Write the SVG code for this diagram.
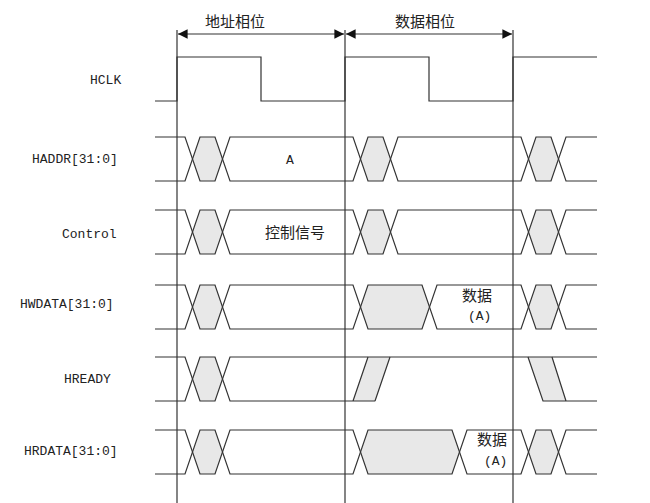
<svg xmlns="http://www.w3.org/2000/svg" width="650" height="503" viewBox="0 0 650 503">
<style>
.l{stroke:#333;stroke-width:1.2;fill:none}
.g{fill:#e8e8e8;stroke:none}
.t{font-family:"Liberation Mono",monospace;font-size:13px;fill:#222}
.c{font-family:"Noto Sans CJK SC",sans-serif;font-size:15px;fill:#222}
</style>
<defs>
<marker id="a" viewBox="0 0 10 10" refX="10" refY="5" markerWidth="10" markerHeight="8" orient="auto-start-reverse"><path d="M0,0L10,5L0,10z" fill="#111"/></marker>
</defs>
<rect width="650" height="503" fill="#fff"/>
<g id="phases">
<line class="l" x1="177" y1="30" x2="177" y2="503"/>
<line class="l" x1="345" y1="30" x2="345" y2="503"/>
<line class="l" x1="513" y1="30" x2="513" y2="503"/>
<line class="l" x1="178" y1="34" x2="344" y2="34" marker-start="url(#a)" marker-end="url(#a)"/>
<line class="l" x1="346" y1="34" x2="512" y2="34" marker-start="url(#a)" marker-end="url(#a)"/>
<text class="c" x="205" y="27">地址相位</text>
<text class="c" x="395" y="27">数据相位</text>
</g>
<g id="labels">
<text class="t" x="90" y="84">HCLK</text>
<text class="t" x="32" y="163">HADDR[31:0]</text>
<text class="t" x="62" y="238">Control</text>
<text class="t" x="20" y="308">HWDATA[31:0]</text>
<text class="t" x="64" y="383">HREADY</text>
<text class="t" x="24" y="455">HRDATA[31:0]</text>
</g>
<g id="hclk"><path class="l" d="M155,101H177V57H261V101H345V57H429V101H513V57H597"/></g>
<g id="haddr">
<path class="g" d="M192.5,159L200,137H215L222.5,159L215,181H200z M360.5,159L368,137H383L390.5,159L383,181H368z M528.5,159L536,137H551L558.5,159L551,181H536z"/>
<path class="l" d="M155,137H185L200,181H215L230,137H353L368,181H383L398,137H521L536,181H551L566,137H597"/>
<path class="l" d="M155,181H185L200,137H215L230,181H353L368,137H383L398,181H521L536,137H551L566,181H597"/>
<text class="t" x="286" y="164">A</text>
</g>
<g id="control">
<path class="g" d="M192.5,232L200,210H215L222.5,232L215,254H200z M360.5,232L368,210H383L390.5,232L383,254H368z M528.5,232L536,210H551L558.5,232L551,254H536z"/>
<path class="l" d="M155,210H185L200,254H215L230,210H353L368,254H383L398,210H521L536,254H551L566,210H597"/>
<path class="l" d="M155,254H185L200,210H215L230,254H353L368,210H383L398,254H521L536,210H551L566,254H597"/>
<text class="c" x="265" y="238">控制信号</text>
</g>
<g id="hwdata">
<path class="g" d="M192.5,307L200,285H215L222.5,307L215,329H200z M360.5,307L368,285H422L429.5,307L422,329H368z M528.5,307L536,285H551L558.5,307L551,329H536z"/>
<path class="l" d="M155,285H185L200,329H215L230,285H353L368,329H422L437,285H521L536,329H551L566,285H597"/>
<path class="l" d="M155,329H185L200,285H215L230,329H353L368,285H422L437,329H521L536,285H551L566,329H597"/>
<text class="c" x="462" y="301">数据</text>
<text class="t" x="468" y="320">(A)</text>
</g>
<g id="hready">
<path class="g" d="M192.5,379L200,357H215L222.5,379L215,401H200z M353,401L368,357H390L375,401z M528,357H552L566,401H543z"/>
<path class="l" d="M155,357H185L200,401H215L230,357H597"/>
<path class="l" d="M155,401H185L200,357H215L230,401H375 M353,401L368,357 M375,401L390,357 M528,357L543,401H597 M552,357L566,401"/>
</g>
<g id="hrdata">
<path class="g" d="M192.5,452L200,430H215L222.5,452L215,474H200z M360.5,452L368,430H452L459.5,452L452,474H368z M528.5,452L536,430H551L558.5,452L551,474H536z"/>
<path class="l" d="M155,430H185L200,474H215L230,430H353L368,474H452L467,430H521L536,474H551L566,430H597"/>
<path class="l" d="M155,474H185L200,430H215L230,474H353L368,430H452L467,474H521L536,430H551L566,474H597"/>
<text class="c" x="477" y="445">数据</text>
<text class="t" x="484" y="465">(A)</text>
</g>
</svg>
